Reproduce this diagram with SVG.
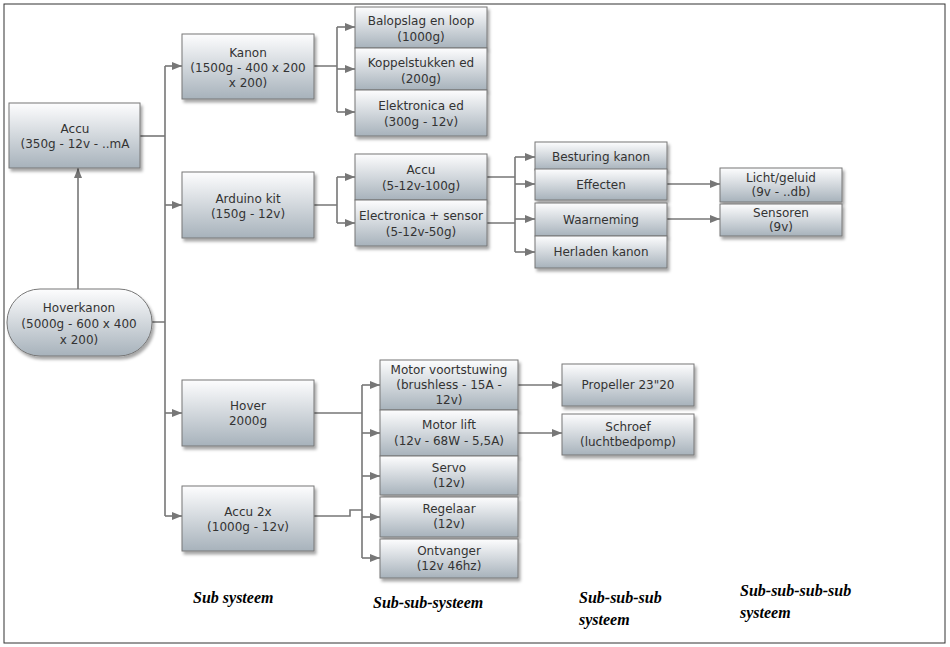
<svg xmlns="http://www.w3.org/2000/svg" width="950" height="647" viewBox="0 0 950 647">
<defs>
<linearGradient id="g" x1="0" y1="0" x2="0" y2="1"><stop offset="0" stop-color="#fdfdfe"/><stop offset="1" stop-color="#a7b2bb"/></linearGradient>
<marker id="a" markerWidth="10" markerHeight="8" refX="10" refY="4" orient="auto" markerUnits="userSpaceOnUse"><path d="M0,0L10,4L0,8z" fill="#777"/></marker>
<filter id="s" x="-10%" y="-10%" width="130%" height="140%"><feDropShadow dx="2" dy="3" stdDeviation="1.5" flood-color="#000" flood-opacity="0.35"/></filter>
</defs>
<style>
.n rect{fill:url(#g);stroke:#777;stroke-width:1;filter:url(#s)}
.n text{font-family:"DejaVu Sans",sans-serif;font-size:12px;fill:#333;text-anchor:middle}
#c path{fill:none;stroke:#777;stroke-width:1.6}
.l{font-family:"Liberation Serif",serif;font-weight:bold;font-style:italic;font-size:16px;fill:#000}
</style>
<rect x="4" y="4" width="941" height="639" fill="#fff" stroke="#333"/>
<g id="c">
<path d="M78,289V168" marker-end="url(#a)"/>
<path d="M140,136H165"/>
<path d="M152,322H165M165,66V516"/>
<path d="M165,66H182" marker-end="url(#a)"/>
<path d="M165,205H182" marker-end="url(#a)"/>
<path d="M165,413H182" marker-end="url(#a)"/>
<path d="M165,516H182" marker-end="url(#a)"/>
<path d="M314,66H337M337,27V112"/>
<path d="M337,27H355" marker-end="url(#a)"/>
<path d="M337,69H355" marker-end="url(#a)"/>
<path d="M337,112H355" marker-end="url(#a)"/>
<path d="M314,205H337M337,177V223"/>
<path d="M337,177H355" marker-end="url(#a)"/>
<path d="M337,223H355" marker-end="url(#a)"/>
<path d="M487,177H515M487,223H515M515,157V252"/>
<path d="M515,157H535" marker-end="url(#a)"/>
<path d="M515,184H535" marker-end="url(#a)"/>
<path d="M515,219H535" marker-end="url(#a)"/>
<path d="M515,252H535" marker-end="url(#a)"/>
<path d="M667,184H720" marker-end="url(#a)"/>
<path d="M667,219H720" marker-end="url(#a)"/>
<path d="M314,413H362M314,516H350V510H362M362,385V558"/>
<path d="M362,385H380" marker-end="url(#a)"/>
<path d="M362,433H380" marker-end="url(#a)"/>
<path d="M362,476H380" marker-end="url(#a)"/>
<path d="M362,517H380" marker-end="url(#a)"/>
<path d="M362,558H380" marker-end="url(#a)"/>
<path d="M518,385H562" marker-end="url(#a)"/>
<path d="M518,433H562" marker-end="url(#a)"/>
</g>
<g id="accu" class="n"><rect x="9" y="103" width="131" height="65"/><text x="75" y="133">Accu</text><text x="75" y="148">(350g - 12v - ..mA</text></g>
<g id="hoverkanon" class="n"><rect x="7" y="289" width="145" height="67" rx="33"/><text x="79" y="312">Hoverkanon</text><text x="79" y="328">(5000g - 600 x 400</text><text x="79" y="344">x 200)</text></g>
<g id="kanon" class="n"><rect x="182" y="34" width="132" height="65"/><text x="248" y="57">Kanon</text><text x="248" y="72">(1500g - 400 x 200</text><text x="248" y="87">x 200)</text></g>
<g id="arduino" class="n"><rect x="182" y="172" width="132" height="66"/><text x="248" y="203">Arduino kit</text><text x="248" y="218">(150g - 12v)</text></g>
<g id="hover" class="n"><rect x="182" y="380" width="132" height="66"/><text x="248" y="410">Hover</text><text x="248" y="425">2000g</text></g>
<g id="accu2x" class="n"><rect x="182" y="486" width="132" height="65"/><text x="248" y="516">Accu 2x</text><text x="248" y="531">(1000g - 12v)</text></g>
<g id="balopslag" class="n"><rect x="355" y="7" width="132" height="41"/><text x="421" y="25">Balopslag en loop</text><text x="421" y="41">(1000g)</text></g>
<g id="koppel" class="n"><rect x="355" y="48" width="132" height="42"/><text x="421" y="67">Koppelstukken ed</text><text x="421" y="83">(200g)</text></g>
<g id="elektronica" class="n"><rect x="355" y="90" width="132" height="46"/><text x="421" y="110">Elektronica ed</text><text x="421" y="126">(300g - 12v)</text></g>
<g id="accu512" class="n"><rect x="355" y="154" width="132" height="46"/><text x="421" y="174">Accu</text><text x="421" y="190">(5-12v-100g)</text></g>
<g id="electronica" class="n"><rect x="355" y="200" width="132" height="46"/><text x="421" y="220">Electronica + sensor</text><text x="421" y="236">(5-12v-50g)</text></g>
<g id="besturing" class="n"><rect x="535" y="142" width="132" height="28"/><text x="601" y="161">Besturing kanon</text></g>
<g id="effecten" class="n"><rect x="535" y="169" width="132" height="31"/><text x="601" y="189">Effecten</text></g>
<g id="waarneming" class="n"><rect x="535" y="203" width="132" height="33"/><text x="601" y="224">Waarneming</text></g>
<g id="herladen" class="n"><rect x="535" y="236" width="132" height="32"/><text x="601" y="256">Herladen kanon</text></g>
<g id="licht" class="n"><rect x="720" y="168" width="122" height="34"/><text x="781" y="182">Licht/geluid</text><text x="781" y="196">(9v - ..db)</text></g>
<g id="sensoren" class="n"><rect x="720" y="204" width="122" height="32"/><text x="781" y="217">Sensoren</text><text x="781" y="231">(9v)</text></g>
<g id="motorv" class="n"><rect x="380" y="360" width="138" height="50"/><text x="449" y="374">Motor voortstuwing</text><text x="449" y="389">(brushless - 15A -</text><text x="449" y="404">12v)</text></g>
<g id="motorl" class="n"><rect x="380" y="410" width="138" height="46"/><text x="449" y="429">Motor lift</text><text x="449" y="445">(12v - 68W - 5,5A)</text></g>
<g id="servo" class="n"><rect x="380" y="456" width="138" height="39"/><text x="449" y="472">Servo</text><text x="449" y="487">(12v)</text></g>
<g id="regelaar" class="n"><rect x="380" y="497" width="138" height="40"/><text x="449" y="513">Regelaar</text><text x="449" y="528">(12v)</text></g>
<g id="ontvanger" class="n"><rect x="380" y="539" width="138" height="39"/><text x="449" y="555">Ontvanger</text><text x="449" y="570">(12v 46hz)</text></g>
<g id="propeller" class="n"><rect x="562" y="364" width="132" height="42"/><text x="628" y="389">Propeller 23"20</text></g>
<g id="schroef" class="n"><rect x="562" y="414" width="132" height="41"/><text x="628" y="431">Schroef</text><text x="628" y="446">(luchtbedpomp)</text></g>
<g id="labels">
<text class="l" x="193" y="603">Sub systeem</text>
<text class="l" x="373" y="608">Sub-sub-systeem</text>
<text class="l" x="579" y="603">Sub-sub-sub</text>
<text class="l" x="579" y="625">systeem</text>
<text class="l" x="740" y="596">Sub-sub-sub-sub</text>
<text class="l" x="740" y="618">systeem</text>
</g>
</svg>
